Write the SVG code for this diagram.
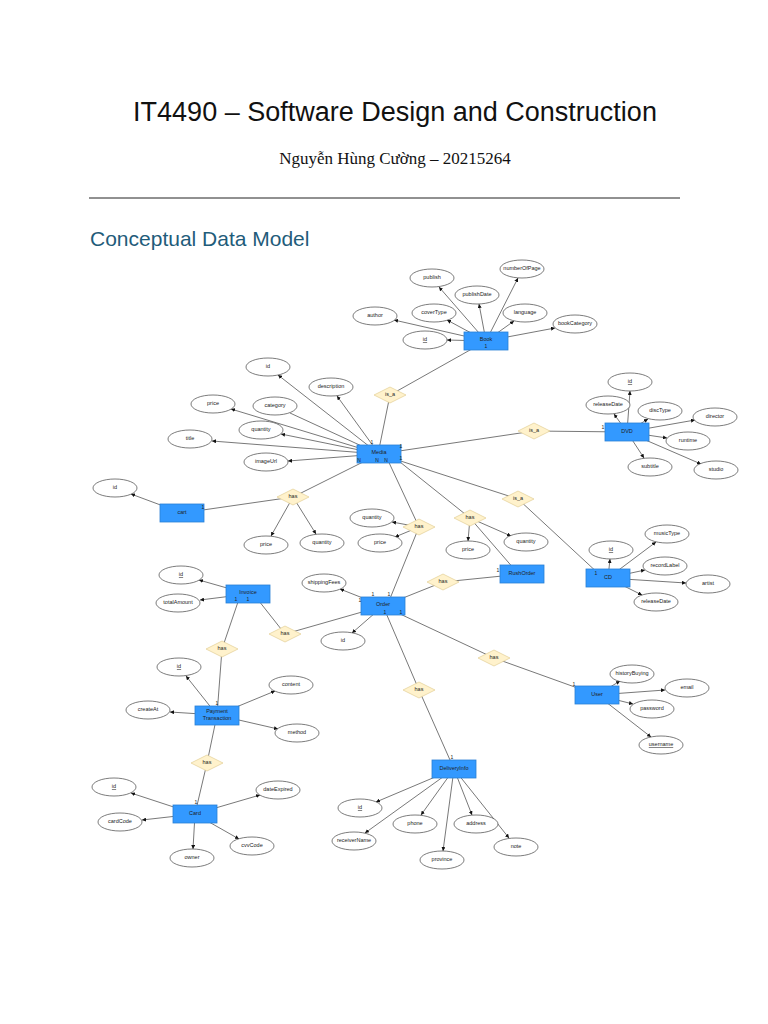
<svg xmlns="http://www.w3.org/2000/svg" width="768" height="1024" viewBox="0 0 768 1024">
<style>
.e rect{fill:#3399ff;stroke:#2a7fd4;stroke-width:0.8}
.a ellipse{fill:#fff;stroke:#444;stroke-width:0.7}
.r polygon{fill:#fff2cc;stroke:#e3cf95;stroke-width:0.7}
text{font-family:"Liberation Sans",Arial,sans-serif}
.t{font-size:5.5px;fill:#222;text-anchor:middle;dominant-baseline:middle}
.c{font-size:5px;fill:#222;text-anchor:middle}
#conn line{stroke:#555;stroke-width:0.8}
#conn .ar{marker-end:url(#m)}
</style>
<defs><marker id="m" viewBox="0 0 10 10" refX="10" refY="5" markerWidth="5" markerHeight="5" orient="auto"><path d="M0,0 L10,5 L0,10 z" fill="#111"/></marker></defs>
<rect width="768" height="1024" fill="#fff"/>
<text x="395" y="121" font-size="27" fill="#111" text-anchor="middle">IT4490 – Software Design and Construction</text>
<text x="395" y="164" font-size="17" fill="#111" text-anchor="middle" style="font-family:'Liberation Serif',serif">Nguyễn Hùng Cường – 20215264</text>
<line x1="89" y1="198" x2="680" y2="198" stroke="#222" stroke-width="1"/>
<text x="90" y="246" font-size="21" fill="#1f5c7a">Conceptual Data Model</text>
<g id="conn">
<line class="ar" x1="486" y1="341" x2="439" y2="287"/><line class="ar" x1="486" y1="341" x2="479" y2="304"/><line class="ar" x1="486" y1="341" x2="518" y2="278"/><line class="ar" x1="486" y1="341" x2="447" y2="320"/><line class="ar" x1="486" y1="341" x2="514" y2="321"/><line class="ar" x1="486" y1="341" x2="555" y2="328"/><line class="ar" x1="486" y1="341" x2="394" y2="320"/><line class="ar" x1="486" y1="341" x2="447" y2="340"/>
<line class="ar" x1="379" y1="454" x2="278" y2="375"/><line class="ar" x1="379" y1="454" x2="337" y2="396"/><line class="ar" x1="379" y1="454" x2="231" y2="409"/><line x1="379" y1="454" x2="290" y2="413"/><line class="ar" x1="379" y1="454" x2="281" y2="434"/><line class="ar" x1="379" y1="454" x2="212" y2="441"/><line class="ar" x1="379" y1="454" x2="288" y2="461"/>
<line class="ar" x1="182" y1="513" x2="131" y2="494"/><line x1="182" y1="513" x2="293" y2="497"/><line x1="379" y1="454" x2="293" y2="497"/>
<line class="ar" x1="293" y1="497" x2="271" y2="536"/><line class="ar" x1="293" y1="497" x2="316" y2="534"/>
<line x1="385" y1="454" x2="419" y2="527"/><line x1="419" y1="527" x2="387" y2="606"/>
<line class="ar" x1="419" y1="527" x2="392" y2="522"/><line class="ar" x1="419" y1="527" x2="395" y2="537"/>
<line x1="390" y1="454" x2="470" y2="518"/><line x1="470" y1="518" x2="515" y2="570"/>
<line class="ar" x1="470" y1="518" x2="468" y2="541"/><line class="ar" x1="470" y1="518" x2="511" y2="536"/>
<line x1="486" y1="341" x2="390" y2="395"/><line x1="390" y1="395" x2="378" y2="454"/>
<line x1="379" y1="454" x2="534" y2="431"/><line x1="534" y1="431" x2="627" y2="432"/>
<line x1="379" y1="454" x2="518" y2="499"/><line x1="518" y1="499" x2="600" y2="575"/>
<line class="ar" x1="627" y1="432" x2="630" y2="391"/><line class="ar" x1="627" y1="432" x2="614" y2="414"/><line class="ar" x1="627" y1="432" x2="648" y2="419"/><line class="ar" x1="627" y1="432" x2="695" y2="420"/><line class="ar" x1="627" y1="432" x2="667" y2="438"/><line class="ar" x1="627" y1="432" x2="644" y2="458"/><line class="ar" x1="627" y1="432" x2="701" y2="464"/>
<line class="ar" x1="608" y1="578" x2="610" y2="559"/><line class="ar" x1="608" y1="578" x2="656" y2="542"/><line class="ar" x1="608" y1="578" x2="645" y2="570"/><line class="ar" x1="608" y1="578" x2="686" y2="583"/><line class="ar" x1="608" y1="578" x2="642" y2="595"/>
<line x1="383" y1="606" x2="443" y2="582"/><line x1="443" y1="582" x2="522" y2="574"/>
<line class="ar" x1="248" y1="594" x2="199" y2="580"/><line class="ar" x1="248" y1="594" x2="200" y2="600"/>
<line x1="255" y1="596" x2="285" y2="634"/><line x1="285" y1="634" x2="383" y2="606"/>
<line x1="240" y1="596" x2="222" y2="649"/><line x1="222" y1="649" x2="217" y2="715"/>
<line class="ar" x1="383" y1="606" x2="340" y2="589"/><line class="ar" x1="383" y1="606" x2="352" y2="633"/>
<line x1="383" y1="606" x2="419" y2="690"/><line x1="419" y1="690" x2="454" y2="769"/>
<line x1="383" y1="606" x2="494" y2="658"/><line x1="494" y1="658" x2="597" y2="695"/>
<line class="ar" x1="217" y1="715" x2="186" y2="676"/><line class="ar" x1="217" y1="715" x2="170" y2="712"/><line class="ar" x1="217" y1="715" x2="275" y2="691"/><line class="ar" x1="217" y1="715" x2="278" y2="729"/>
<line x1="217" y1="715" x2="207" y2="763"/><line x1="207" y1="763" x2="195" y2="814"/>
<line class="ar" x1="195" y1="814" x2="131" y2="793"/><line class="ar" x1="195" y1="814" x2="142" y2="820"/><line class="ar" x1="195" y1="814" x2="260" y2="795"/><line class="ar" x1="195" y1="814" x2="239" y2="839"/><line class="ar" x1="195" y1="814" x2="193" y2="849"/>
<line class="ar" x1="597" y1="695" x2="620" y2="681"/><line class="ar" x1="597" y1="695" x2="665" y2="690"/><line class="ar" x1="597" y1="695" x2="633" y2="704"/><line class="ar" x1="597" y1="695" x2="651" y2="737"/>
<line class="ar" x1="454" y1="769" x2="376" y2="802"/><line class="ar" x1="454" y1="769" x2="421" y2="815"/><line class="ar" x1="454" y1="769" x2="472" y2="815"/><line class="ar" x1="454" y1="769" x2="365" y2="833"/><line class="ar" x1="454" y1="769" x2="443" y2="851"/><line class="ar" x1="454" y1="769" x2="509" y2="838"/>
</g>
<g class="r">
<g id="r-isa-book"><polygon points="374,395 390,387 406,395 390,403"/><text class="t" x="390" y="395">is_a</text></g>
<g id="r-isa-dvd"><polygon points="518,431 534,423 550,431 534,439"/><text class="t" x="534" y="431">is_a</text></g>
<g id="r-isa-cd"><polygon points="502,499 518,491 534,499 518,507"/><text class="t" x="518" y="499">is_a</text></g>
<g id="r-has-cart"><polygon points="277,497 293,489 309,497 293,505"/><text class="t" x="293" y="497">has</text></g>
<g id="r-has-mo"><polygon points="403,527 419,519 435,527 419,535"/><text class="t" x="419" y="527">has</text></g>
<g id="r-has-mr"><polygon points="454,518 470,510 486,518 470,526"/><text class="t" x="470" y="518">has</text></g>
<g id="r-has-or"><polygon points="427,582 443,574 459,582 443,590"/><text class="t" x="443" y="582">has</text></g>
<g id="r-has-io"><polygon points="269,634 285,626 301,634 285,642"/><text class="t" x="285" y="634">has</text></g>
<g id="r-has-ip"><polygon points="206,649 222,641 238,649 222,657"/><text class="t" x="222" y="649">has</text></g>
<g id="r-has-od"><polygon points="403,690 419,682 435,690 419,698"/><text class="t" x="419" y="690">has</text></g>
<g id="r-has-ou"><polygon points="478,658 494,650 510,658 494,666"/><text class="t" x="494" y="658">has</text></g>
<g id="r-has-pc"><polygon points="191,763 207,755 223,763 207,771"/><text class="t" x="207" y="763">has</text></g>
</g>
<g class="e">
<g id="book"><rect x="464" y="332" width="44" height="18"/><text class="t" x="486" y="340">Book</text></g>
<g id="media"><rect x="357" y="445" width="44" height="18"/><text class="t" x="379" y="453">Media</text></g>
<g id="dvd"><rect x="605" y="423" width="44" height="18"/><text class="t" x="627" y="432">DVD</text></g>
<g id="cart"><rect x="160" y="504" width="44" height="18"/><text class="t" x="182" y="513">cart</text></g>
<g id="rushorder"><rect x="500" y="565" width="44" height="18"/><text class="t" x="522" y="574">RushOrder</text></g>
<g id="cd"><rect x="586" y="569" width="44" height="18"/><text class="t" x="608" y="578">CD</text></g>
<g id="invoice"><rect x="226" y="585" width="44" height="18"/><text class="t" x="248" y="593">Invoice</text></g>
<g id="order"><rect x="361" y="597" width="44" height="18"/><text class="t" x="383" y="605">Order</text></g>
<g id="user"><rect x="575" y="686" width="44" height="18"/><text class="t" x="597" y="695">User</text></g>
<g id="payment"><rect x="195" y="706" width="44" height="19"/><text class="t" x="217" y="712">Payment</text><text class="t" x="217" y="719">Transaction</text></g>
<g id="deliveryinfo"><rect x="432" y="760" width="44" height="18"/><text class="t" x="454" y="769">DeliveryInfo</text></g>
<g id="card"><rect x="173" y="805" width="44" height="18"/><text class="t" x="195" y="814">Card</text></g>
</g>
<g class="c">
<text x="486" y="348">1</text><text x="372" y="444">1</text><text x="359" y="462">N</text><text x="377" y="462">N</text><text x="386" y="462">N</text><text x="401" y="448">1</text><text x="401" y="460">1</text>
<text x="603" y="429">1</text><text x="596" y="575">1</text><text x="498" y="572">1</text><text x="203" y="509">1</text>
<text x="373" y="596">1</text><text x="389" y="596">1</text><text x="360" y="602">1</text><text x="385" y="614">1</text><text x="401" y="614">1</text>
<text x="236" y="601">1</text><text x="248" y="601">1</text><text x="574" y="686">1</text><text x="452" y="759">1</text><text x="217" y="705">1</text><text x="196" y="804">1</text>
</g>
<g class="a">
<g id="a-b-publish"><ellipse cx="432" cy="278" rx="22" ry="9"/><text class="t" x="432" y="278">publish</text></g>
<g id="a-b-publishDate"><ellipse cx="477" cy="295" rx="22" ry="9"/><text class="t" x="477" y="295">publishDate</text></g>
<g id="a-b-numberOfPage"><ellipse cx="522" cy="269" rx="22" ry="9"/><text class="t" x="522" y="269">numberOfPage</text></g>
<g id="a-b-coverType"><ellipse cx="434" cy="313" rx="22" ry="9"/><text class="t" x="434" y="313">coverType</text></g>
<g id="a-b-language"><ellipse cx="525" cy="313" rx="22" ry="9"/><text class="t" x="525" y="313">language</text></g>
<g id="a-b-bookCategory"><ellipse cx="575" cy="324" rx="22" ry="9"/><text class="t" x="575" y="324">bookCategory</text></g>
<g id="a-b-author"><ellipse cx="375" cy="316" rx="22" ry="9"/><text class="t" x="375" y="316">author</text></g>
<g id="a-b-id"><ellipse cx="425" cy="340" rx="22" ry="9"/><text class="t" x="425" y="340" text-decoration="underline">id</text></g>
<g id="a-m-id"><ellipse cx="268" cy="367" rx="22" ry="9"/><text class="t" x="268" y="367">id</text></g>
<g id="a-m-description"><ellipse cx="331" cy="387" rx="22" ry="9"/><text class="t" x="331" y="387">description</text></g>
<g id="a-m-price"><ellipse cx="213" cy="404" rx="22" ry="9"/><text class="t" x="213" y="404">price</text></g>
<g id="a-m-category"><ellipse cx="275" cy="406" rx="22" ry="9"/><text class="t" x="275" y="406">category</text></g>
<g id="a-m-quantity"><ellipse cx="261" cy="430" rx="22" ry="9"/><text class="t" x="261" y="430">quantity</text></g>
<g id="a-m-title"><ellipse cx="190" cy="439" rx="22" ry="9"/><text class="t" x="190" y="439">title</text></g>
<g id="a-m-imageUrl"><ellipse cx="266" cy="462" rx="22" ry="9"/><text class="t" x="266" y="462">imageUrl</text></g>
<g id="a-c-id"><ellipse cx="115" cy="488" rx="22" ry="9"/><text class="t" x="115" y="488">id</text></g>
<g id="a-hc-price"><ellipse cx="266" cy="545" rx="22" ry="9"/><text class="t" x="266" y="545">price</text></g>
<g id="a-hc-quantity"><ellipse cx="322" cy="543" rx="22" ry="9"/><text class="t" x="322" y="543">quantity</text></g>
<g id="a-ho-quantity"><ellipse cx="372" cy="518" rx="22" ry="9"/><text class="t" x="372" y="518">quantity</text></g>
<g id="a-ho-price"><ellipse cx="380" cy="543" rx="22" ry="9"/><text class="t" x="380" y="543">price</text></g>
<g id="a-hr-price"><ellipse cx="468" cy="550" rx="22" ry="9"/><text class="t" x="468" y="550">price</text></g>
<g id="a-hr-quantity"><ellipse cx="526" cy="542" rx="22" ry="9"/><text class="t" x="526" y="542">quantity</text></g>
<g id="a-d-id"><ellipse cx="630" cy="382" rx="22" ry="9"/><text class="t" x="630" y="382" text-decoration="underline">id</text></g>
<g id="a-d-releaseDate"><ellipse cx="608" cy="405" rx="22" ry="9"/><text class="t" x="608" y="405">releaseDate</text></g>
<g id="a-d-discType"><ellipse cx="660" cy="411" rx="22" ry="9"/><text class="t" x="660" y="411">discType</text></g>
<g id="a-d-director"><ellipse cx="715" cy="417" rx="22" ry="9"/><text class="t" x="715" y="417">director</text></g>
<g id="a-d-runtime"><ellipse cx="688" cy="441" rx="22" ry="9"/><text class="t" x="688" y="441">runtime</text></g>
<g id="a-d-subtitle"><ellipse cx="650" cy="467" rx="22" ry="9"/><text class="t" x="650" y="467">subtitle</text></g>
<g id="a-d-studio"><ellipse cx="716" cy="470" rx="22" ry="9"/><text class="t" x="716" y="470">studio</text></g>
<g id="a-cd-id"><ellipse cx="611" cy="550" rx="22" ry="9"/><text class="t" x="611" y="550" text-decoration="underline">id</text></g>
<g id="a-cd-musicType"><ellipse cx="667" cy="534" rx="22" ry="9"/><text class="t" x="667" y="534">musicType</text></g>
<g id="a-cd-recordLabel"><ellipse cx="665" cy="566" rx="22" ry="9"/><text class="t" x="665" y="566">recordLabel</text></g>
<g id="a-cd-artist"><ellipse cx="708" cy="584" rx="22" ry="9"/><text class="t" x="708" y="584">artist</text></g>
<g id="a-cd-releaseDate"><ellipse cx="656" cy="602" rx="22" ry="9"/><text class="t" x="656" y="602">releaseDate</text></g>
<g id="a-i-id"><ellipse cx="181" cy="575" rx="22" ry="9"/><text class="t" x="181" y="575" text-decoration="underline">id</text></g>
<g id="a-i-totalAmount"><ellipse cx="178" cy="603" rx="22" ry="9"/><text class="t" x="178" y="603">totalAmount</text></g>
<g id="a-o-shippingFees"><ellipse cx="324" cy="583" rx="22" ry="9"/><text class="t" x="324" y="583">shippingFees</text></g>
<g id="a-o-id"><ellipse cx="343" cy="641" rx="22" ry="9"/><text class="t" x="343" y="641">id</text></g>
<g id="a-p-id"><ellipse cx="179" cy="667" rx="22" ry="9"/><text class="t" x="179" y="667" text-decoration="underline">id</text></g>
<g id="a-p-createAt"><ellipse cx="148" cy="710" rx="22" ry="9"/><text class="t" x="148" y="710">createAt</text></g>
<g id="a-p-content"><ellipse cx="291" cy="685" rx="22" ry="9"/><text class="t" x="291" y="685">content</text></g>
<g id="a-p-method"><ellipse cx="297" cy="733" rx="22" ry="9"/><text class="t" x="297" y="733">method</text></g>
<g id="a-k-id"><ellipse cx="114" cy="787" rx="22" ry="9"/><text class="t" x="114" y="787" text-decoration="underline">id</text></g>
<g id="a-k-cardCode"><ellipse cx="120" cy="822" rx="22" ry="9"/><text class="t" x="120" y="822">cardCode</text></g>
<g id="a-k-dateExpired"><ellipse cx="278" cy="790" rx="22" ry="9"/><text class="t" x="278" y="790">dateExpired</text></g>
<g id="a-k-cvvCode"><ellipse cx="252" cy="846" rx="22" ry="9"/><text class="t" x="252" y="846">cvvCode</text></g>
<g id="a-k-owner"><ellipse cx="192" cy="858" rx="22" ry="9"/><text class="t" x="192" y="858">owner</text></g>
<g id="a-u-historyBuying"><ellipse cx="632" cy="674" rx="22" ry="9"/><text class="t" x="632" y="674">historyBuying</text></g>
<g id="a-u-email"><ellipse cx="687" cy="688" rx="22" ry="9"/><text class="t" x="687" y="688">email</text></g>
<g id="a-u-password"><ellipse cx="652" cy="709" rx="22" ry="9"/><text class="t" x="652" y="709">password</text></g>
<g id="a-u-username"><ellipse cx="661" cy="745" rx="22" ry="9"/><text class="t" x="661" y="745" text-decoration="underline">username</text></g>
<g id="a-di-id"><ellipse cx="360" cy="808" rx="22" ry="9"/><text class="t" x="360" y="808" text-decoration="underline">id</text></g>
<g id="a-di-phone"><ellipse cx="415" cy="824" rx="22" ry="9"/><text class="t" x="415" y="824">phone</text></g>
<g id="a-di-address"><ellipse cx="476" cy="824" rx="22" ry="9"/><text class="t" x="476" y="824">address</text></g>
<g id="a-di-receiverName"><ellipse cx="354" cy="841" rx="22" ry="9"/><text class="t" x="354" y="841">receiverName</text></g>
<g id="a-di-province"><ellipse cx="442" cy="860" rx="22" ry="9"/><text class="t" x="442" y="860">province</text></g>
<g id="a-di-note"><ellipse cx="516" cy="847" rx="22" ry="9"/><text class="t" x="516" y="847">note</text></g>
</g>
</svg>
